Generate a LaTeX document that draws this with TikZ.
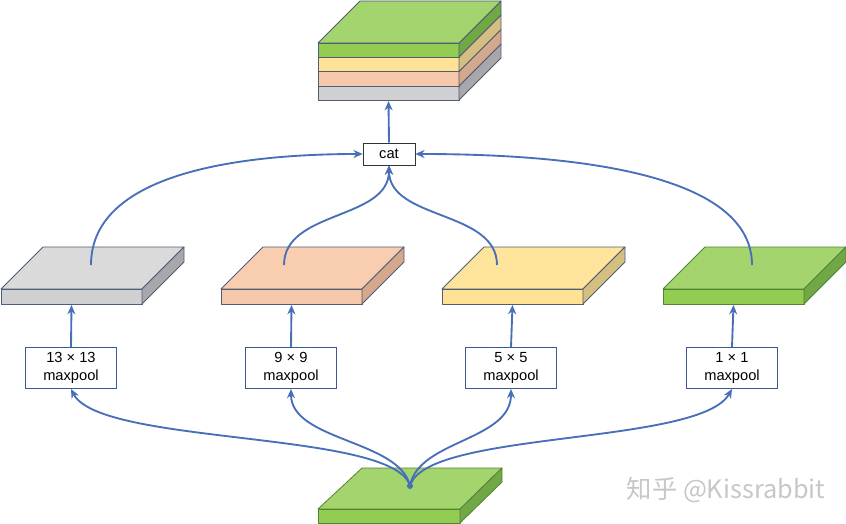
\documentclass[tikz,border=0pt]{standalone}
\usepackage{fontspec}
\setsansfont{Liberation Sans}
\newfontfamily\cjkfont{Noto Sans CJK SC}
\usetikzlibrary{arrows.meta,positioning}
\definecolor{linkblue}{RGB}{72,111,184}
\definecolor{edgegray}{RGB}{80,94,116}
\definecolor{edgegreen}{RGB}{84,130,53}
\definecolor{grtop}{RGB}{218,218,218}
\definecolor{grfront}{RGB}{208,208,210}
\definecolor{grside}{RGB}{168,168,172}
\definecolor{ortop}{RGB}{248,205,176}
\definecolor{orfront}{RGB}{246,200,170}
\definecolor{orside}{RGB}{212,168,140}
\definecolor{yetop}{RGB}{255,229,156}
\definecolor{yefront}{RGB}{255,226,150}
\definecolor{yeside}{RGB}{212,190,128}
\definecolor{gntop}{RGB}{163,212,110}
\definecolor{gnfront}{RGB}{146,204,80}
\definecolor{gnside}{RGB}{112,168,70}
\tikzset{
  pool/.style={draw=linkblue!80!black, fill=white, font=\sffamily\fontsize{11}{13}\selectfont,
    align=center, minimum width=68pt, minimum height=31pt, inner sep=1pt},
  link/.style={linkblue, line width=1.4pt, -{Stealth[length=7pt,width=6pt]}},
  face/.style={line width=0.6pt, line join=round}
}

\begin{document}
\begin{tikzpicture}[x=0.75pt,y=-0.75pt]
\useasboundingbox (0,0) rectangle (846,524);
% Four pooled slabs
\foreach \n/\x/\ctop/\cfront/\cside/\cedge in {1/1/grtop/grfront/grside/edgegray,
    2/221/ortop/orfront/orside/edgegray, 3/442/yetop/yefront/yeside/edgegray,
    4/663/gntop/gnfront/gnside/edgegreen} {
  \draw[face, draw=\cedge, fill=\ctop] (\x,289) -- (\x+42,247) -- (\x+183,247) -- (\x+141,289) -- cycle;
  \draw[face, draw=\cedge, fill=\cfront] (\x,289) rectangle (\x+141,304);
  \draw[face, draw=\cedge, fill=\cside] (\x+141,289) -- (\x+183,247) -- (\x+183,262) -- (\x+141,304) -- cycle;
  \coordinate (base\n) at (\x+70.5,305);
}
\coordinate (top1) at (91,265);
\coordinate (top2) at (284,265);
\coordinate (top3) at (497,265);
\coordinate (top4) at (752,265);
% Input slab
\draw[face, draw=edgegreen, fill=gntop] (318,509) -- (362,468) -- (502,468) -- (460,509) -- cycle;
\draw[face, draw=edgegreen, fill=gnfront] (318,509) rectangle (460,523);
\draw[face, draw=edgegreen, fill=gnside] (460,509) -- (502,468) -- (502,482) -- (460,523) -- cycle;
\coordinate (src) at (410,486);
% Concatenated output
\foreach \ya/\yb/\cfront/\cside in {86/100/grfront/grside, 71.5/86/orfront/orside,
    57/71.5/yefront/yeside, 43/57/gnfront/gnside} {
  \draw[face, draw=edgegray, fill=\cfront] (318,\ya) rectangle (459,\yb);
  \draw[face, draw=edgegray, fill=\cside] (459,\ya) -- (501,\ya-42) -- (501,\yb-42) -- (459,\yb) -- cycle;
}
\draw[face, draw=edgegray, fill=gntop] (318,43) -- (360,1) -- (501,1) -- (459,43) -- cycle;
\coordinate (out) at (388.5,101);
% Pooling boxes
\node[pool] (pool13) at (71,368) {13 × 13\\maxpool};
\node[pool] (pool9) at (291,368) {9 × 9\\maxpool};
\node[pool] (pool5) at (511,368) {5 × 5\\maxpool};
\node[pool] (pool1) at (732,368) {1 × 1\\maxpool};
\node[draw=black!80, fill=white, font=\sffamily\fontsize{11}{13}\selectfont,
  minimum width=39pt, minimum height=16.5pt, inner sep=1pt] (cat) at (389,154) {cat};
% Input to pooling
\fill[linkblue] (src) circle (3);
\draw[link] (src) .. controls +(-15,-56) and +(29,57) .. (pool13.south);
\draw[link] (src) .. controls +(-10,-46) and +(0,52) .. (pool9.south);
\draw[link] (src) .. controls +(8,-46) and +(0,52) .. (pool5.south);
\draw[link] (src) .. controls +(15,-56) and +(-32,57) .. (pool1.south);
% Pooling to slabs
\foreach \n/\p in {1/pool13, 2/pool9, 3/pool5, 4/pool1}
  \draw[link] (\p.north) -- (base\n);
% Slabs to cat
\draw[link] (top1) .. controls +(0,-95) and +(-113,0) .. (cat.west);
\draw[link] (top2) .. controls +(0,-55) and +(0,55) .. (cat.south);
\draw[link] (top3) .. controls +(0,-55) and +(0,55) .. (cat.south);
\draw[link] (top4) .. controls +(0,-95) and +(145,0) .. (cat.east);
\draw[link] (cat.north) -- (out);
% Watermark
\node[font=\cjkfont\fontsize{19}{21}\selectfont, text=black!22] (mark) at (726,490) {知乎 @Kissrabbit};
\end{tikzpicture}
\end{document}
